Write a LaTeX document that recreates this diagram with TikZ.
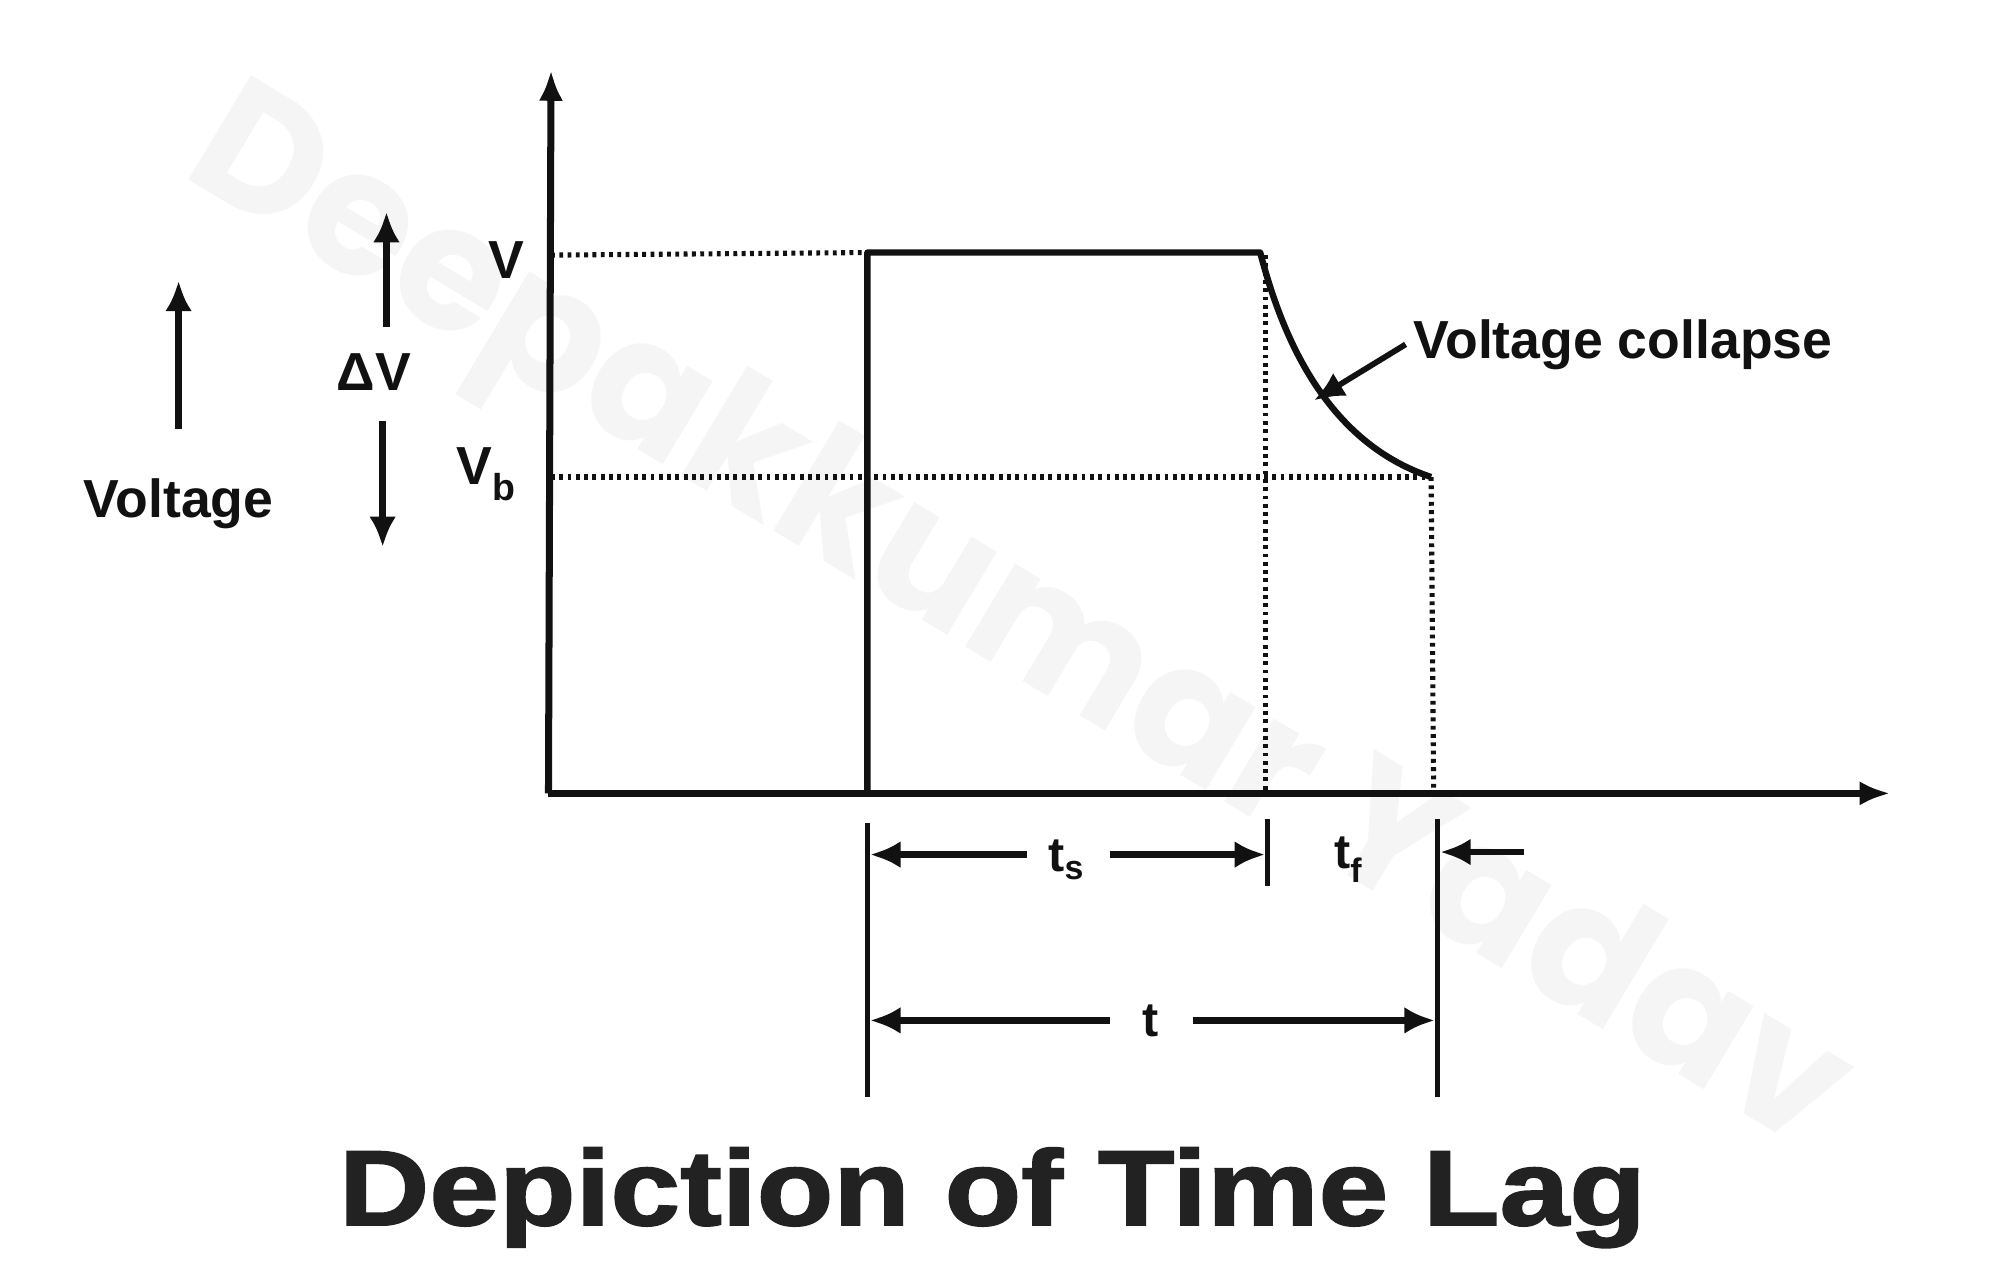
\documentclass[tikz,border=0pt]{standalone}
\usepackage{fontspec}
\setmainfont{Liberation Sans}
\newfontfamily\wmfont{Poppins}
\newfontfamily\titlefont[FakeBold=1.5]{Liberation Sans Bold}
\usetikzlibrary{arrows.meta}
\definecolor{ink}{HTML}{111111}
\definecolor{wm}{HTML}{F5F5F5}
\definecolor{titleink}{HTML}{222222}
\begin{document}
\begin{tikzpicture}[x=1pt,y=-1pt,
  axisline/.style={line width=5.5pt,draw=ink,-{Latex[length=24pt,width=19pt]}},
  solidline/.style={line width=5pt,draw=ink},
  dotline/.style={line width=4pt,draw=ink,dash pattern=on 3pt off 3.5pt},
  dimarrow/.style={line width=5pt,draw=ink,-{Latex[length=24pt,width=21pt]}},
  lbl/.style={font=\bfseries\fontsize{42}{46}\selectfont,text=ink,inner sep=0pt},
  slbl/.style={font=\bfseries\fontsize{38}{42}\selectfont,text=ink,inner sep=0pt}]
\useasboundingbox (0,0) rectangle (1568,1009);
\fill[white] (0,0) rectangle (1568,1009);
% watermark
\node[font=\wmfont\bfseries\fontsize{136}{136}\selectfont,text=wm,rotate=-31] (wmark) at (795,492) {Deepakkumar Yadav};
% coordinates
\coordinate (O) at (430,622);
\coordinate (Ytop) at (432,55);
\coordinate (Xend) at (1482,622);
\coordinate (A) at (680,622);
\coordinate (B) at (680,198);
\coordinate (C) at (988,198);
\coordinate (D) at (1122,374);
\coordinate (Vy) at (432,200);
\coordinate (Vby) at (432,374);
\coordinate (Ct) at (992,200);
\coordinate (Cb) at (992,622);
\coordinate (Db) at (1124,622);
% dotted guide lines
\draw[dotline] (Vy) -- (B);
\draw[dotline] (Vby) -- (D);
\draw[dotline] (Ct) -- (Cb);
\draw[dotline] (D) -- (Db);
% axes
\draw[axisline] (O) -- (Ytop);
\draw[axisline] (O) -- (Xend);
% pulse
\draw[solidline,line join=round] (A) -- (B) -- (C) .. controls (1003,255) and (1035,345) .. (D);
% extension lines
\coordinate (L1) at (680,645);
\coordinate (L2) at (680,860);
\coordinate (R1) at (1127,642);
\coordinate (R2) at (1127,860);
\coordinate (M1) at (994,642);
\coordinate (M2) at (994,695);
\draw[solidline,line width=4pt] (L1) -- (L2);
\draw[solidline,line width=4pt] (R1) -- (R2);
\draw[solidline,line width=4pt] (M1) -- (M2);
% ts dimension
\node[slbl] (ts) at (836,674) {t\textsubscript{s}};
\coordinate (tsL) at (682,670);
\coordinate (tsR) at (992,670);
\coordinate (tsLs) at (805,670);
\coordinate (tsRs) at (870,670);
\draw[dimarrow] (tsLs) -- (tsL);
\draw[dimarrow] (tsRs) -- (tsR);
% tf
\node[slbl] (tf) at (1057,674) {t\textsubscript{f}};
\coordinate (tfs) at (1195,668);
\coordinate (tfe) at (1129,668);
\draw[dimarrow] (tfs) -- (tfe);
% t dimension
\node[slbl] (t) at (902,800) {t};
\coordinate (tL) at (682,800);
\coordinate (tR) at (1125,800);
\coordinate (tLs) at (870,800);
\coordinate (tRs) at (935,800);
\draw[dimarrow] (tLs) -- (tL);
\draw[dimarrow] (tRs) -- (tR);
% labels on y axis
\node[lbl] (V) at (397,204) {V};
\node[lbl] (Vb) at (381,372) {V\textsubscript{b}};
\node[lbl] (dV) at (293,292) {ΔV};
\coordinate (dVu1) at (303,256);
\coordinate (dVu2) at (303,166);
\coordinate (dVd1) at (300,330);
\coordinate (dVd2) at (300,429);
\draw[dimarrow] (dVu1) -- (dVu2);
\draw[dimarrow] (dVd1) -- (dVd2);
% voltage arrow
\node[lbl] (volt) at (140,395) {Voltage};
\coordinate (va1) at (140,336);
\coordinate (va2) at (140,220);
\draw[dimarrow] (va1) -- (va2);
% voltage collapse
\node[lbl,anchor=west] (vc) at (1108,270) {Voltage collapse};
\coordinate (vcTip) at (1030,314);
\draw[dimarrow,line width=4.5pt] (vc.west) ++(-6,0) -- (vcTip);
% title
\node[font=\titlefont\fontsize{84}{88}\selectfont,text=titleink,inner sep=0pt,xscale=1.17,transform shape] (title) at (778,939) {Depiction of Time Lag};
\end{tikzpicture}
\end{document}
